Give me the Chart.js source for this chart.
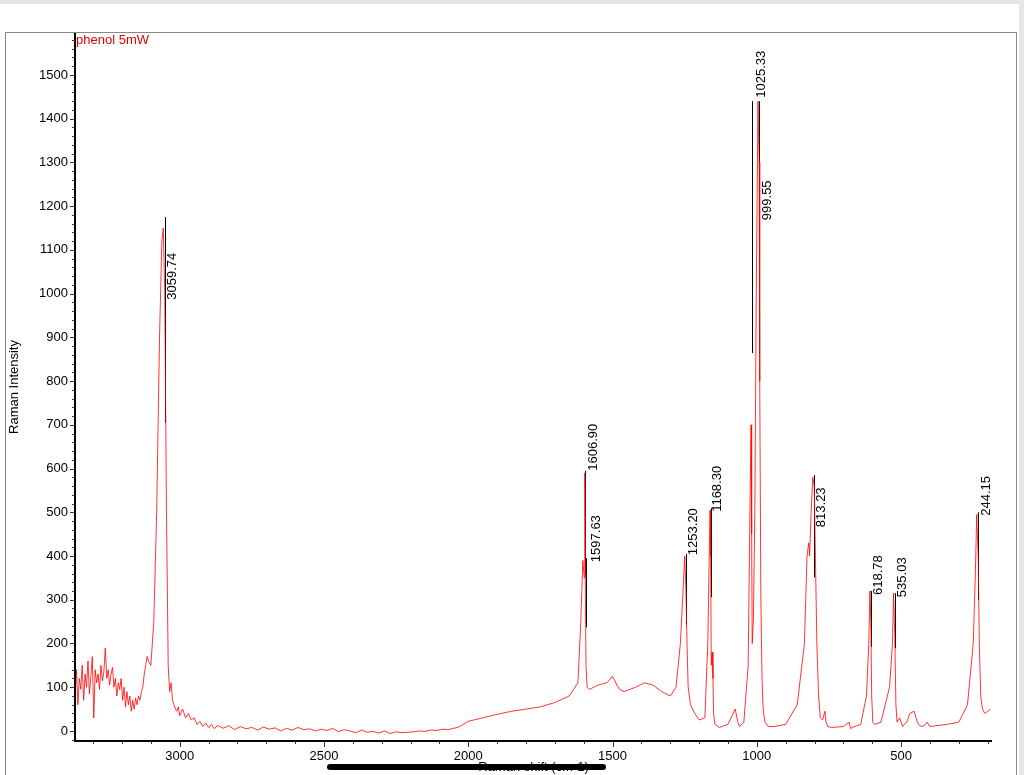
<!DOCTYPE html>
<html><head><meta charset="utf-8">
<script src="https://cdn.jsdelivr.net/npm/chart.js@4/dist/chart.umd.min.js"></script>
<style>
html,body{margin:0;padding:0;background:#e4e4ea;width:1024px;height:775px;overflow:hidden}
#wrap{position:absolute;left:0;top:4px;width:1019px;height:771px;background:#fff}
#frame{position:absolute;left:5px;top:32px;width:1012px;height:760px;border:1px solid #888;box-sizing:border-box}
#c{position:absolute;left:0;top:0}
#bar{position:absolute;left:327px;top:764px;width:279px;height:6px;background:#000;border-radius:3px}
</style></head><body>
<div id="wrap"></div><div id="frame"></div>
<canvas id="c" width="1024" height="775"></canvas>
<div id="bar"></div>
<script>
const shift = [3363,3358,3353,3348,3343,3338,3333,3328,3323,3318,3313,3308,3303,3298,3293,3288,3283,3278,3273,3268,3263,3258,3253,3248,3243,3238,3233,3228,3223,3218,3213,3208,3203,3198,3193,3188,3183,3178,3173,3168,3163,3158,3153,3148,3143,3138,3133,3128,3123,3118,3113,3108,3100,3090,3080,3070,3062,3057,3052,3046,3040,3035,3030,3025,3020,3015,3010,3005,3000,2990,2980,2970,2960,2950,2940,2930,2920,2910,2900,2890,2880,2870,2860,2850,2830,2810,2790,2770,2750,2730,2710,2690,2670,2650,2630,2610,2590,2570,2550,2530,2510,2490,2470,2450,2430,2410,2390,2370,2350,2330,2310,2290,2270,2250,2230,2210,2190,2170,2150,2130,2110,2090,2070,2050,2030,2000,1950,1900,1850,1800,1750,1700,1650,1620,1610,1603,1598,1596,1594,1592,1588,1580,1550,1520,1500,1485,1475,1460,1420,1390,1360,1330,1300,1280,1265,1255,1250,1246,1242,1238,1230,1215,1200,1180,1170,1165,1162,1160,1158,1155,1152,1150,1145,1130,1100,1075,1066,1060,1045,1030,1024,1020,1018,1016,1012,1007,1002,996,992,990,986,982,978,972,960,940,900,860,835,826,820,817,812,806,801,797,792,786,780,772,764,760,754,740,700,680,675,670,640,620,612,608,605,602,598,592,570,540,530,526,522,518,514,505,495,490,480,470,455,446,440,430,420,410,400,380,340,300,270,250,243,238,233,229,224,218,210,200,190,185];
const intensity = [80,140,60,120,95,150,70,130,100,160,85,125,170,30,140,110,130,95,150,115,135,190,120,140,105,130,145,100,120,80,110,95,120,70,100,55,90,60,80,45,70,50,75,60,80,70,90,100,130,150,170,160,150,250,500,900,1120,1150,1000,500,150,90,110,70,60,50,45,55,35,50,30,40,25,30,15,22,10,18,8,15,5,12,10,6,12,3,10,5,8,2,9,4,7,0,6,2,8,3,5,0,4,1,6,-2,3,0,-4,2,-3,-1,-5,0,-6,-2,-4,-3,-2,0,-1,2,1,4,3,6,10,22,30,38,45,50,55,65,80,110,250,390,350,590,300,150,100,95,105,110,125,105,95,90,100,110,105,90,80,100,200,330,400,330,200,100,60,40,25,30,200,400,505,400,150,180,120,40,15,8,15,50,20,10,20,150,500,700,450,200,250,500,1000,1440,1300,800,300,120,50,20,10,10,15,60,200,400,430,400,500,580,560,400,200,80,30,25,45,20,10,8,10,20,5,8,15,80,200,320,250,80,20,15,20,100,200,315,220,60,20,30,10,15,20,40,45,25,15,10,12,20,10,12,15,20,60,200,350,495,400,200,80,50,40,45,50];
const peakLabels = ["3059.74","1606.90","1597.63","1253.20","1168.30","1025.33","999.55","813.23","618.78","535.03","244.15"];
const peakShift = [3052,1594,1592,1245,1160,1017,992,801,604,522,233];
const peakLineTop = [1175,595,395,405,510,1440,1440,585,320,315,500];
const labelBottom = [986,595,386,402,501,1448,1168,466,311,306,492];
const labelPixelDx = [8,8,10,7,7,9,8,7,7,8,8];
const yTicks = [0,100,200,300,400,500,600,700,800,900,1000,1100,1200,1300,1400,1500];
const xTicks = [3000,2500,2000,1500,1000,500];

const pts = shift.map((x,i)=>({x:x,y:intensity[i]}));
const FONT='"Liberation Sans", Arial, sans-serif';

const deco = {
  id:'deco',
  beforeDatasetsDraw(ch){
    const {ctx,scales:{x,y}}=ch;
    ctx.save();ctx.strokeStyle='#000';ctx.lineWidth=1;
    peakShift.forEach((s,i)=>{
      const px=Math.round(x.getPixelForValue(s))+0.5;
      ctx.beginPath();ctx.moveTo(px,y.getPixelForValue(peakLineTop[i]));
      ctx.lineTo(px,y.getPixelForValue(peakLineTop[i]*0.6));ctx.stroke();
    });
    ctx.restore();
  },
  afterDraw(ch){
    const {ctx,scales:{x,y},chartArea:a}=ch;
    ctx.save();
    ctx.fillStyle='#000';ctx.font='13px '+FONT;
    peakShift.forEach((s,i)=>{
      const px=x.getPixelForValue(s)+labelPixelDx[i];
      const py=y.getPixelForValue(labelBottom[i]);
      ctx.save();ctx.translate(px,py);ctx.rotate(-Math.PI/2);
      ctx.textAlign='left';ctx.textBaseline='middle';ctx.fillText(peakLabels[i],0,0);ctx.restore();
    });
    ctx.strokeStyle='#000';ctx.lineWidth=2;
    ctx.beginPath();ctx.moveTo(a.left,a.top);ctx.lineTo(a.left,a.bottom);ctx.lineTo(a.right,a.bottom);ctx.stroke();
    ctx.lineWidth=1;ctx.strokeStyle='#333';
    for(let v=-20;v<=1580;v+=20){
      const py=Math.round(y.getPixelForValue(v))+0.5;
      const len=(v%100===0)?5:3;
      ctx.beginPath();ctx.moveTo(a.left-len,py);ctx.lineTo(a.left,py);ctx.stroke();
    }
    for(let v=3300;v>=200;v-=100){
      const px=Math.round(x.getPixelForValue(v))+0.5;
      const len=(v%500===0)?6:3;
      ctx.beginPath();ctx.moveTo(px,a.bottom);ctx.lineTo(px,a.bottom+len);ctx.stroke();
    }
    ctx.fillStyle='#e00000';ctx.font='13px '+FONT;ctx.textAlign='left';ctx.textBaseline='top';
    ctx.fillText('phenol 5mW',a.left+1,a.top+1);
    ctx.restore();
  }
};

new Chart(document.getElementById('c'),{
  type:'scatter',
  data:{datasets:[{data:pts,showLine:true,borderColor:'#ff0000',borderWidth:0.8,pointRadius:0,tension:0}]},
  options:{
    responsive:false,animation:false,
    layout:{padding:{left:7,right:32,top:33,bottom:0}},
    plugins:{legend:{display:false},tooltip:{enabled:false}},
    scales:{
      x:{type:'linear',reverse:true,min:185,max:3363,
        afterBuildTicks:s=>{s.ticks=xTicks.map(v=>({value:v}));},
        grid:{display:false,drawTicks:false},border:{display:false},
        ticks:{color:'#000',font:{family:FONT,size:13},padding:8,maxRotation:0,callback:v=>String(v)},
        title:{display:true,text:'Raman shift (cm-1)',color:'#000',font:{family:FONT,size:13},padding:{top:0,bottom:0}},
        afterFit:s=>{s.height=34;}},
      y:{min:-23,max:1596,
        afterBuildTicks:s=>{s.ticks=yTicks.map(v=>({value:v}));},
        grid:{display:false,drawTicks:false},border:{display:false},
        ticks:{color:'#000',font:{family:FONT,size:13},padding:7,callback:v=>String(v)},
        title:{display:true,text:'Raman Intensity',color:'#000',font:{family:FONT,size:13},padding:{top:0,bottom:2}},
        afterFit:s=>{s.width=68;}}
    }
  },
  plugins:[deco]
});
</script></body></html>
